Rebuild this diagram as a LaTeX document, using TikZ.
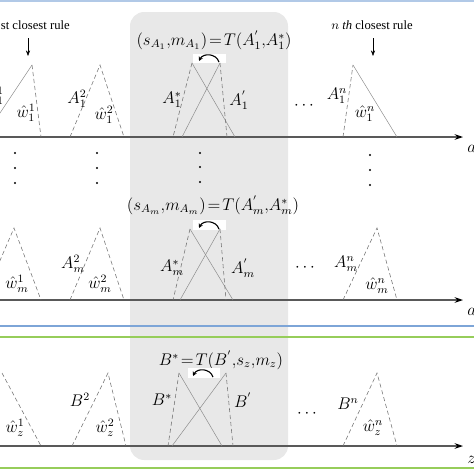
\documentclass[tikz,border=0pt]{standalone}
\usepackage{fontspec}
\setmainfont{Liberation Serif}
\usepackage{tikz}
\usetikzlibrary{arrows.meta}
\definecolor{sepblue}{RGB}{125,165,215}
\definecolor{sepgreen}{RGB}{150,205,90}

\begin{document}
\begin{tikzpicture}
[x=0.025cm,y=-0.025cm
,ax/.style={draw=black!65,line width=0.8pt,arrows={-Stealth[length=6pt,width=4pt,black]}}
,tr/.style={draw=black!55,densely dashed,line width=0.4pt}
,trs/.style={draw=black!45,line width=0.35pt}
,lb/.style={inner sep=0pt,font=\large}
,eq/.style={inner sep=0pt,font=\fontsize{11.5}{13}\selectfont}
,note/.style={inner sep=0pt,font=\small}
,pt/.style={circle,fill,inner sep=0pt,minimum size=1.6pt}
,pick/.style={thick,arrows={-Stealth[length=3pt,width=3pt]}}
,sep/.style={line width=1pt}
]
\useasboundingbox (0,0) rectangle (474,474);
\fill[gray!18,rounded corners=10pt] (130,12) rectangle (288,460);
\draw[sep,draw=sepblue!60] (0,1) -- (474,1);
\draw[sep,draw=sepblue] (0,326) -- (474,326);
\draw[sep,draw=sepgreen] (0,337) -- (474,337);
\draw[sep,draw=sepgreen] (0,468) -- (474,468);
% first row
\coordinate (x1s) at (-5,137);
\coordinate (x1e) at (463,137);
\draw[ax] (x1s) -- (x1e);
\node[lb,anchor=west] (x1) at (467,150) {$a_{1}$};
\node[note,anchor=east] (c1) at (70,25) {1 st closest rule};
\node[note] (cn) at (372,25) {$n$ \textit{th} closest rule};
\coordinate (c1a) at (28,38);
\coordinate (c1b) at (28,56);
\coordinate (cna) at (373,38);
\coordinate (cnb) at (373,56);
\draw[arrows={-Stealth[length=4pt,width=3pt]}] (c1a) -- (c1b);
\draw[arrows={-Stealth[length=4pt,width=3pt]}] (cna) -- (cnb);
\draw[trs] (32,65) -- (-16,137);
\draw[tr] (32,65) -- (41,137);
\draw[tr] (70,137) -- (100,65) -- (124,137);
\node[lb,anchor=east] (a11) at (4,96) {$A_{1}^{1}$};
\node[lb] (w11) at (26,113) {$\hat{w}_{1}^{1}$};
\node[lb] (a12) at (77,99) {$A_{1}^{2}$};
\node[lb] (w12) at (104,115) {$\hat{w}_{1}^{2}$};
\node[eq] (e1) at (214,40) {$(s_{A_{1}},\!m_{A_{1}})\!=\!T(A_{1}^{'},\!A_{1}^{*})$};
\fill[white] (193,54) rectangle (226,63);
\draw[pick] (219,62) .. controls (216,53) and (203,53) .. (199,61);
\draw[tr] (192,63) -- (173,137);
\draw[trs] (192,63) -- (235,137);
\draw[trs] (220,63) -- (182,137);
\draw[tr] (220,63) -- (227,137);
\node[lb] (a1s) at (172,100) {$A_{1}^{*}$};
\node[lb] (a1p) at (239,100) {$A_{1}^{'}$};
\node[lb] (h1) at (304,106) {$\cdots$};
\draw[tr] (343,137) -- (353,65);
\draw[trs] (353,65) -- (397,137);
\node[lb] (a1n) at (337,96) {$A_{1}^{n}$};
\node[lb] (w1n) at (365,114) {$\hat{w}_{1}^{n}$};
% vertical dots
\node[pt] (d11) at (15,153) {};
\node[pt] (d12) at (15,168) {};
\node[pt] (d13) at (15,183) {};
\node[pt] (d21) at (97,153) {};
\node[pt] (d22) at (97,168) {};
\node[pt] (d23) at (97,183) {};
\node[pt] (d31) at (200,153) {};
\node[pt] (d32) at (200,167) {};
\node[pt] (d33) at (200,182) {};
\node[pt] (d41) at (370,155) {};
\node[pt] (d42) at (370,170) {};
\node[pt] (d43) at (370,185) {};
% row m
\coordinate (xms) at (-5,300);
\coordinate (xme) at (463,300);
\draw[ax] (xms) -- (xme);
\node[lb,anchor=west] (xm) at (467,314) {$a_{p}$};
\draw[tr] (-17,300) -- (14,228) -- (41,300);
\draw[tr] (70,300) -- (100,228) -- (124,300);
\node[lb] (wm1) at (17,284) {$\hat{w}_{m}^{1}$};
\node[lb] (am2) at (73,264) {$A_{m}^{2}$};
\node[lb] (wm2) at (100,284) {$\hat{w}_{m}^{2}$};
\node[eq] (em) at (213,205) {$(s_{A_{m}},\!m_{A_{m}})\!=\!T(A_{m}^{'},\!A_{m}^{*})$};
\fill[white] (193,220) rectangle (226,230);
\draw[pick] (219,229) .. controls (216,220) and (203,220) .. (199,228);
\draw[tr] (190,229) -- (173,300);
\draw[trs] (190,229) -- (233,300);
\draw[trs] (220,229) -- (180,300);
\draw[tr] (220,229) -- (226,300);
\node[lb] (ams) at (172,268) {$A_{m}^{*}$};
\node[lb] (amp) at (243,268) {$A_{m}^{'}$};
\node[lb] (hm) at (305,268) {$\cdots$};
\draw[tr] (343,300) -- (377,228) -- (397,300);
\node[lb] (amn) at (346,264) {$A_{m}^{n}$};
\node[lb] (wmn) at (377,286) {$\hat{w}_{m}^{n}$};
% output row
\coordinate (xzs) at (-5,446);
\coordinate (xze) at (463,446);
\draw[ax] (xzs) -- (xze);
\node[lb,anchor=west] (xz) at (467,460) {$z$};
\draw[tr] (2,373) -- (41,446);
\draw[tr] (72,446) -- (108,373) -- (126,446);
\node[lb] (wz1) at (15,428) {$\hat{w}_{z}^{1}$};
\node[lb] (b2) at (80,400) {$B^{2}$};
\node[lb] (wz2) at (105,428) {$\hat{w}_{z}^{2}$};
\node[eq] (ez) at (221,360) {$B^{*}\!=\!T(B^{'},\!s_{z},\!m_{z})$};
\fill[white] (188,368) rectangle (220,378);
\draw[pick] (213,377) .. controls (210,368) and (197,368) .. (193,376);
\draw[tr] (179,373) -- (168,446);
\draw[trs] (179,373) -- (222,446);
\draw[trs] (226,373) -- (172,446);
\draw[tr] (226,373) -- (233,446);
\node[lb] (bs) at (162,400) {$B^{*}$};
\node[lb] (bp) at (243,400) {$B^{'}$};
\node[lb] (hz) at (307,414) {$\cdots$};
\draw[tr] (343,446) -- (377,373) -- (397,446);
\node[lb] (bn) at (348,404) {$B^{n}$};
\node[lb] (wzn) at (373,428) {$\hat{w}_{z}^{n}$};
\end{tikzpicture}
\end{document}
